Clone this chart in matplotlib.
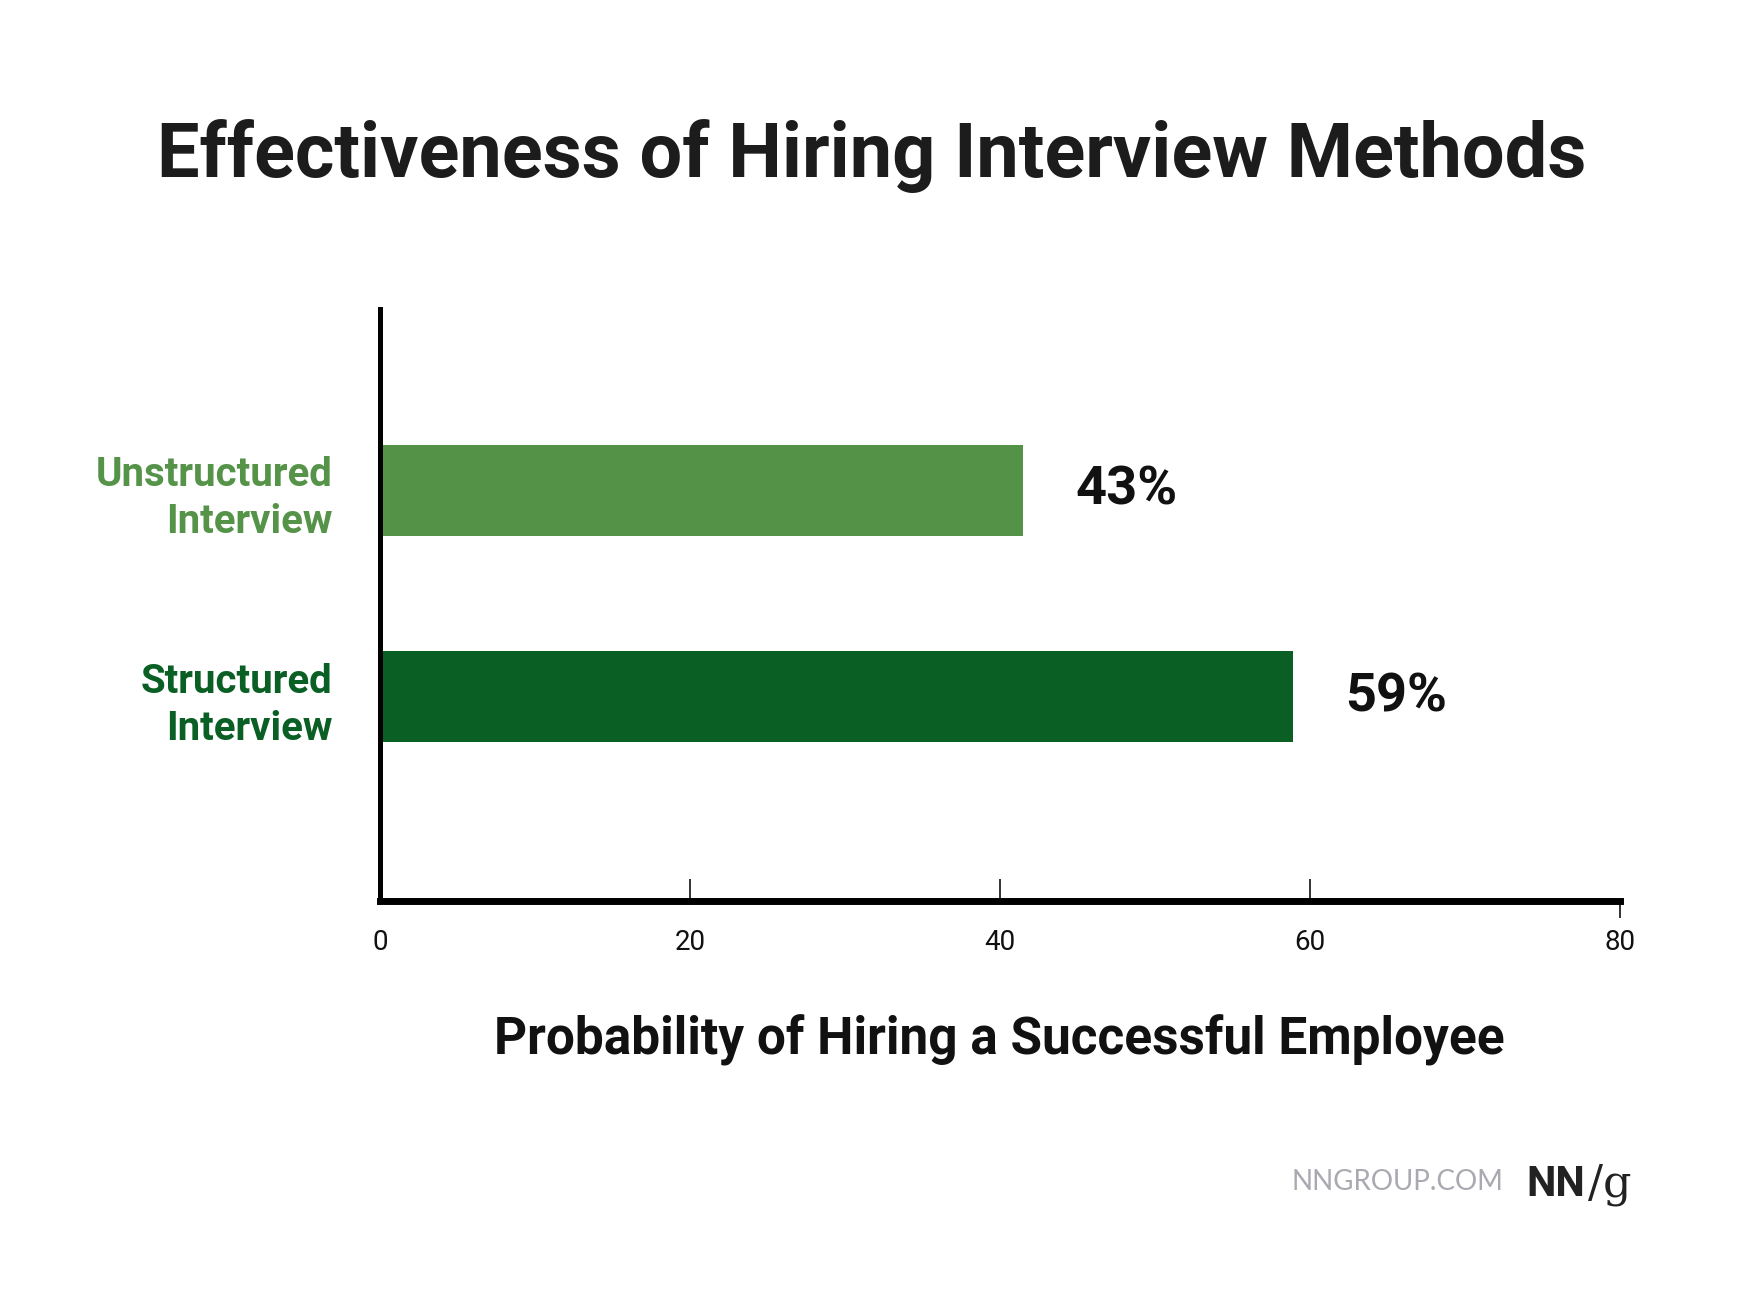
import matplotlib.pyplot as plt

# data
methods = ['Structured\nInterview', 'Unstructured\nInterview']
probability = [58.9, 41.5]
value_labels = ['59%', '43%']
label_colors = ['#0a5f24', '#559349']
bar_colors = ['#0a5f24', '#549248']
x_ticks = [0, 20, 40, 60, 80]

W, H = 1744, 1290
plt.rcParams['font.family'] = ['Roboto', 'DejaVu Sans']

fig = plt.figure(figsize=(W / 100, H / 100), dpi=100)
fig.patch.set_facecolor('white')

# axes box in pixel positions, converted to figure fractions
left, right, top, bottom = 380, 1620, 309, 901
ax = fig.add_axes([left / W, 1 - bottom / H, (right - left) / W, (bottom - top) / H])

ypos = list(range(len(methods)))
ax.barh(ypos, probability, height=0.44, color=bar_colors)

for y, v, lab in zip(ypos, probability, value_labels):
    ax.text(v + 3.4, y, lab, va='center', ha='left', fontsize=39,
            fontweight='bold', color='#111111')

ax.set_xlim(0, 80)
ax.set_ylim(-0.99, 1.877)

ax.set_yticks(ypos)
ax.set_yticklabels(methods, fontsize=29, fontweight='bold', linespacing=1.3)
for t, c in zip(ax.get_yticklabels(), label_colors):
    t.set_color(c)
ax.tick_params(axis='y', length=0, pad=34)

# labelled ticks point up into the plot; the end tick at 80 hangs below the axis
ax.xaxis.remove_overlapping_locs = False
ax.set_xticks(x_ticks)
ax.set_xticklabels([str(t) for t in x_ticks])
ax.set_xticks([x_ticks[-1]], minor=True)
ax.tick_params(axis='x', which='major', direction='in', length=16, width=1.2,
               pad=20, labelsize=20, colors='#111111')
ax.tick_params(axis='x', which='minor', direction='out', length=12, width=1.2,
               labelbottom=False, colors='#111111')
ax.xaxis.get_major_ticks()[-1].tick1line.set_visible(False)

for s in ['top', 'right']:
    ax.spines[s].set_visible(False)
ax.spines['bottom'].set_linewidth(5)
ax.spines['left'].set_linewidth(3.6)
ax.spines['bottom'].set_color('#000000')
ax.spines['left'].set_color('#000000')

fig.text(0.5, 1 - 156 / H, 'Effectiveness of Hiring Interview Methods',
         ha='center', va='center', fontsize=54.5, fontweight='bold', color='#1c1c1c')
fig.text(999 / W, 1 - 1040 / H, 'Probability of Hiring a Successful Employee',
         ha='center', va='center', fontsize=37, fontweight='bold', color='#111111')

fig.text(1503 / W, 1 - 1182 / H, 'NNGROUP.COM', ha='right', va='center',
         fontsize=20, color='#a9a9b1', family='Lato')
fig.text(1526 / W, 1 - 1184 / H, 'NN', ha='left', va='center',
         fontsize=30, fontweight='bold', color='#222222', family='Roboto')
fig.text(1588 / W, 1 - 1184 / H, '/g', ha='left', va='center',
         fontsize=32, color='#222222', family='DejaVu Serif')

plt.savefig('out.png', dpi=100, facecolor='white')
plt.close()
